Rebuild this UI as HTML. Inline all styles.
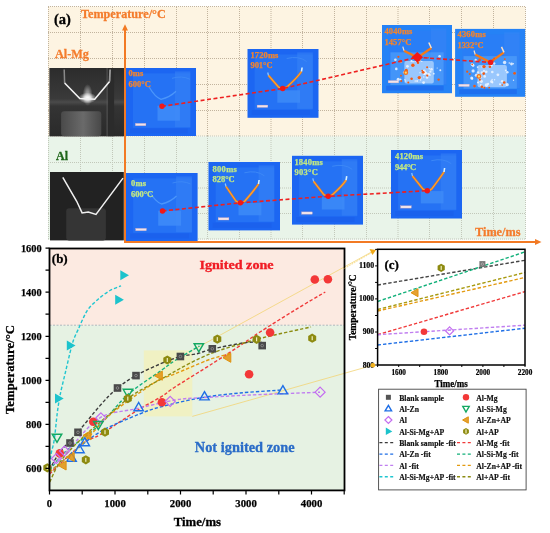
<!DOCTYPE html>
<html><head><meta charset="utf-8"><style>
html,body{margin:0;padding:0;background:#fff;}
svg{display:block;filter:blur(0.3px);font-family:"Liberation Serif",serif;}
</style></head><body>
<svg width="550" height="533" viewBox="0 0 550 533">
<rect width="550" height="533" fill="#fff"/>
<rect x="48" y="6.5" width="477.5" height="130" fill="#fdf4e2"/>
<rect x="48" y="136.5" width="477.5" height="103" fill="#e9f4e9"/>
<path d="M48.5 7V136 M80.5 7V136 M112.5 7V136 M144.5 7V136 M176.5 7V136 M207.5 7V136 M239.5 7V136 M271.0 7V136 M302.5 7V136 M334.5 7V136 M366.5 7V136 M398.0 7V136 M429.5 7V136 M461.5 7V136 M493.5 7V136 M525.5 7V136 M48 6.5H525.5 M48 32.5H525.5 M48 58.5H525.5 M48 84.5H525.5 M48 110.5H525.5" stroke="#c2b49e" stroke-width="1" stroke-dasharray="1,1" fill="none"/>
<path d="M48.5 136V239 M80.5 136V239 M112.5 136V239 M144.5 136V239 M176.5 136V239 M207.5 136V239 M239.5 136V239 M271.0 136V239 M302.5 136V239 M334.5 136V239 M366.5 136V239 M398.0 136V239 M429.5 136V239 M461.5 136V239 M493.5 136V239 M525.5 136V239 M48 136.0H525.5 M48 162.5H525.5 M48 188.0H525.5 M48 213.5H525.5 M48 239.0H525.5" stroke="#c2c8ba" stroke-width="1" stroke-dasharray="1,1" fill="none"/>
<g><rect x="49.6" y="68" width="74.3" height="68.2" fill="#303030"/><linearGradient id="pt1" x1="0" y1="0" x2="0" y2="1"><stop offset="0" stop-color="#2c2c2c"/><stop offset="0.45" stop-color="#3a3a3a"/><stop offset="0.5" stop-color="#4a4a4a"/><stop offset="0.56" stop-color="#343434"/><stop offset="1" stop-color="#2a2a2a"/></linearGradient><rect x="49.6" y="68" width="74.3" height="68.2" fill="url(#pt1)"/><rect x="106.6" y="68" width="1" height="68.2" fill="#555"/><rect x="108.1" y="68" width="6" height="68.2" fill="#2b2b2b"/><linearGradient id="pt2" x1="0" y1="0" x2="1" y2="0"><stop offset="0" stop-color="#4a4a4a"/><stop offset="0.55" stop-color="#6a6a6a"/><stop offset="1" stop-color="#484848"/></linearGradient><rect x="61.1" y="111.3" width="40.2" height="24.900000000000006" rx="3" fill="url(#pt2)"/><radialGradient id="glow1"><stop offset="0" stop-color="#fff" stop-opacity="1"/><stop offset="0.35" stop-color="#fff" stop-opacity="0.8"/><stop offset="1" stop-color="#fff" stop-opacity="0"/></radialGradient><ellipse cx="87.6" cy="95" rx="5" ry="11" fill="url(#glow1)" opacity="0.55"/><ellipse cx="87.6" cy="98" rx="9" ry="5.5" fill="url(#glow1)" opacity="1"/><path d="M64.2 69.5 L64.6 83" stroke="#8a8a8a" stroke-width="1.5"/><path d="M110.1 69.5 L109.6 81.5" stroke="#9a9a9a" stroke-width="1.8"/><polyline points="64.6,83 79.8,98.5 94.7,99.2 109.6,81.5" fill="none" stroke="#f2f2f2" stroke-width="1.6"/></g>
<g><rect x="50" y="172" width="73.8" height="68.4" fill="#222"/><rect x="66.2" y="208.3" width="39.7" height="32.10000000000001" rx="3" fill="#353535"/><polyline points="62.8,177.4 76.7,201.3 82.1,212.9 88.3,212.1 96,214.5 123,178.1" fill="none" stroke="#f0f0f0" stroke-width="1.5"/></g>
<g><rect x="126" y="68" width="70.0" height="68.0" fill="#1c66f2"/><rect x="133.0" y="73.4" width="57.4" height="54.4" fill="#2e7cf6" opacity="0.55"/><rect x="175.0" y="71.4" width="15.4" height="55.8" fill="#3b88f7" opacity="0.45"/><rect x="130.2" y="128.5" width="57.4" height="4.8" fill="#1a5ce8" opacity="0.5"/><rect x="157.5" y="105.7" width="22.4" height="15.0" fill="#3f8cf8" opacity="0.85"/><path d="M149 86.8 Q155 97.3 161 99.3 Q170 97.3 176 91.3" fill="none" stroke="#4b96fa" stroke-width="1.3"/><path d="M172 78.3 Q182 75.3 190 79.3" fill="none" stroke="#3c88f7" stroke-width="1"/><rect x="135.4" y="123.4" width="10.5" height="2.3" fill="#f0e4ea" stroke="#e8a8b0" stroke-width="0.3"/><text x="128.4" y="76.2" font-size="8.5" fill="#f5842c" stroke="#f5842c" stroke-width="0.25" font-weight="bold" textLength="14.8" lengthAdjust="spacing">0ms</text><text x="128.4" y="86.8" font-size="8.5" fill="#f5842c" stroke="#f5842c" stroke-width="0.25" font-weight="bold" textLength="22.5" lengthAdjust="spacing">600°C</text></g>
<g><rect x="247.5" y="49" width="71.0" height="68.8" fill="#1c66f2"/><rect x="254.6" y="54.5" width="58.2" height="55.0" fill="#2e7cf6" opacity="0.55"/><rect x="297.2" y="52.4" width="15.6" height="56.4" fill="#3b88f7" opacity="0.45"/><rect x="251.8" y="110.2" width="58.2" height="4.8" fill="#1a5ce8" opacity="0.5"/><rect x="277.3" y="90.3" width="22.7" height="12.4" fill="#3f8cf8" opacity="0.8"/><path d="M286.7 58.5 Q298.7 55.5 306.7 61.5" fill="none" stroke="#3c88f7" stroke-width="1"/><path d="M268.5 75.5 L278.2 86.7 Q282.7 90.7 287.2 86.7 Q297.5 77.5 301.5 71.5" fill="none" stroke="#e8761c" stroke-width="2.2" stroke-linejoin="round"/><path d="M268.5 75.5 L278.2 86.7 Q282.7 90.7 287.2 86.7 Q297.5 77.5 301.5 71.5" fill="none" stroke="#f6a234" stroke-width="1.2" stroke-linejoin="round"/><path d="M301.5 71.5 L302.1 67.5" stroke="#d8f2ff" stroke-width="1.6"/><path d="M268.5 75.5 L267.7 72.5" stroke="#8fc8ff" stroke-width="1.2"/><rect x="257.1" y="105.1" width="10.7" height="2.3" fill="#f0e4ea" stroke="#e8a8b0" stroke-width="0.3"/><text x="250.4" y="57.5" font-size="8.5" fill="#f5842c" stroke="#f5842c" stroke-width="0.25" font-weight="bold" textLength="28" lengthAdjust="spacing">1720ms</text><text x="250.4" y="67.6" font-size="8.5" fill="#f5842c" stroke="#f5842c" stroke-width="0.25" font-weight="bold" textLength="22.2" lengthAdjust="spacing">901°C</text></g>
<g><rect x="382" y="25" width="70.0" height="68.2" fill="#2582f6"/><rect x="389.0" y="30.5" width="57.4" height="54.6" fill="#2e7cf6" opacity="0.55"/><rect x="431.0" y="28.4" width="15.4" height="55.9" fill="#3b88f7" opacity="0.45"/><rect x="386.2" y="85.7" width="57.4" height="4.8" fill="#1a5ce8" opacity="0.5"/><rect x="390.4" y="52.3" width="53.2" height="32.7" fill="#5aa8fb" opacity="0.55"/><rect x="404.4" y="61.1" width="29.4" height="22.5" rx="2" fill="#d4e9ff" opacity="0.6"/><circle cx="411.9" cy="60.5" r="0.6" fill="#eef6ff" opacity="0.85"/><circle cx="429.3" cy="68.8" r="0.8" fill="#eef6ff" opacity="0.85"/><circle cx="404.9" cy="79.7" r="0.7" fill="#eef6ff" opacity="0.85"/><circle cx="396.3" cy="68.9" r="1.3" fill="#eef6ff" opacity="0.85"/><circle cx="403.9" cy="72.5" r="1.1" fill="#eef6ff" opacity="0.85"/><circle cx="395.4" cy="59.7" r="1.3" fill="#eef6ff" opacity="0.85"/><circle cx="428.5" cy="74.3" r="1.6" fill="#eef6ff" opacity="0.85"/><circle cx="420.2" cy="78.3" r="1.2" fill="#eef6ff" opacity="0.85"/><circle cx="426.1" cy="73.0" r="1.1" fill="#eef6ff" opacity="0.85"/><circle cx="419.3" cy="77.3" r="0.9" fill="#eef6ff" opacity="0.85"/><circle cx="431.5" cy="69.2" r="1.3" fill="#eef6ff" opacity="0.85"/><circle cx="400.5" cy="79.4" r="1.0" fill="#eef6ff" opacity="0.85"/><circle cx="420.0" cy="72.7" r="0.7" fill="#eef6ff" opacity="0.85"/><circle cx="423.8" cy="77.0" r="0.7" fill="#eef6ff" opacity="0.85"/><circle cx="419.2" cy="60.0" r="1.8" fill="#eef6ff" opacity="0.85"/><circle cx="398.2" cy="79.4" r="1.6" fill="#eef6ff" opacity="0.85"/><circle cx="418.8" cy="78.2" r="0.6" fill="#eef6ff" opacity="0.85"/><circle cx="415.2" cy="61.5" r="0.6" fill="#eef6ff" opacity="0.85"/><circle cx="417.1" cy="81.0" r="1.0" fill="#eef6ff" opacity="0.85"/><circle cx="405.6" cy="81.0" r="0.7" fill="#eef6ff" opacity="0.85"/><circle cx="413.0" cy="61.6" r="0.8" fill="#eef6ff" opacity="0.85"/><circle cx="433.8" cy="73.7" r="0.9" fill="#eef6ff" opacity="0.85"/><circle cx="415.2" cy="81.0" r="0.8" fill="#eef6ff" opacity="0.85"/><circle cx="411.3" cy="61.0" r="0.9" fill="#eef6ff" opacity="0.85"/><circle cx="424.1" cy="71.2" r="1.6" fill="#eef6ff" opacity="0.85"/><circle cx="439.6" cy="56.3" r="1.3" fill="#eef6ff" opacity="0.85"/><circle cx="424.3" cy="74.0" r="1.1" fill="#eef6ff" opacity="0.85"/><circle cx="421.8" cy="61.4" r="0.7" fill="#eef6ff" opacity="0.85"/><circle cx="423.6" cy="82.6" r="1.4" fill="#eef6ff" opacity="0.85"/><circle cx="418.0" cy="60.3" r="1.0" fill="#eef6ff" opacity="0.85"/><circle cx="424.8" cy="73.1" r="1.8" fill="#eef6ff" opacity="0.85"/><circle cx="427.1" cy="77.5" r="1.3" fill="#eef6ff" opacity="0.85"/><circle cx="430.4" cy="71.7" r="1.1" fill="#eef6ff" opacity="0.85"/><circle cx="440.3" cy="70.3" r="1.0" fill="#eef6ff" opacity="0.85"/><circle cx="430.1" cy="75.1" r="0.8" fill="#eef6ff" opacity="0.85"/><circle cx="407.4" cy="66.3" r="1.4" fill="#eef6ff" opacity="0.85"/><circle cx="420.6" cy="80.0" r="0.7" fill="#eef6ff" opacity="0.85"/><circle cx="400.9" cy="62.0" r="1.0" fill="#eef6ff" opacity="0.85"/><circle cx="407.0" cy="72.9" r="1.0" fill="#eef6ff" opacity="0.85"/><circle cx="437.2" cy="68.0" r="0.6" fill="#eef6ff" opacity="0.85"/><path d="M404 50.7 L417.6 57.6 L431.3 48" fill="none" stroke="#f47a18" stroke-width="2.3" stroke-linejoin="round"/><path d="M431.3 48 L428.8 42.5" stroke="#f8e0c8" stroke-width="1.5"/><path d="M404 50.7 L402.8 46.7" stroke="#f8e0c8" stroke-width="1.2"/><circle cx="438.6" cy="79.6" r="1.2" fill="#f25a12"/><circle cx="408.3" cy="82.6" r="1.0" fill="#f25a12"/><circle cx="411.6" cy="78.7" r="1.3" fill="#f25a12"/><circle cx="400.6" cy="61.2" r="1.5" fill="#f25a12"/><circle cx="413.2" cy="56.3" r="0.8" fill="#f25a12"/><circle cx="427.1" cy="67.2" r="1.0" fill="#f25a12"/><circle cx="401.0" cy="75.7" r="0.9" fill="#f25a12"/><circle cx="428.2" cy="57.8" r="0.8" fill="#f25a12"/><circle cx="398.4" cy="56.8" r="1.1" fill="#f25a12"/><circle cx="401.2" cy="81.0" r="1.0" fill="#f25a12"/><circle cx="419.0" cy="59.8" r="1.7" fill="#f25a12"/><circle cx="406.3" cy="70.4" r="1.6" fill="#f25a12"/><circle cx="422.2" cy="70.6" r="0.9" fill="#f25a12"/><circle cx="418.0" cy="62.8" r="1.2" fill="#f25a12"/><circle cx="423.2" cy="72.3" r="1.4" fill="#f25a12"/><circle cx="412.9" cy="65.3" r="1.7" fill="#f25a12"/><circle cx="427.3" cy="75.6" r="1.1" fill="#f25a12"/><circle cx="419.3" cy="77.6" r="1.7" fill="#f25a12"/><circle cx="405.8" cy="72.7" r="2.4" fill="#f47020"/><circle cx="405.8" cy="72.7" r="1.1" fill="#f8e070"/><rect x="388.2" y="80.6" width="10.5" height="2.3" fill="#f0e4ea" stroke="#e8a8b0" stroke-width="0.3"/><text x="384.4" y="33.6" font-size="8.5" fill="#f5842c" stroke="#f5842c" stroke-width="0.25" font-weight="bold" textLength="28" lengthAdjust="spacing">4040ms</text><text x="384.4" y="44.6" font-size="8.5" fill="#f5842c" stroke="#f5842c" stroke-width="0.25" font-weight="bold" textLength="27" lengthAdjust="spacing">1457°C</text></g>
<g><rect x="455.1" y="28.9" width="70.1" height="67.9" fill="#2582f6"/><rect x="462.1" y="34.3" width="57.5" height="54.3" fill="#2e7cf6" opacity="0.55"/><rect x="504.2" y="32.3" width="15.4" height="55.7" fill="#3b88f7" opacity="0.45"/><rect x="459.3" y="89.3" width="57.5" height="4.8" fill="#1a5ce8" opacity="0.5"/><rect x="463.5" y="56.1" width="53.3" height="32.6" fill="#5aa8fb" opacity="0.55"/><rect x="477.5" y="64.9" width="29.4" height="22.4" rx="2" fill="#d4e9ff" opacity="0.6"/><circle cx="509.3" cy="63.0" r="0.8" fill="#eef6ff" opacity="0.85"/><circle cx="513.3" cy="63.7" r="0.8" fill="#eef6ff" opacity="0.85"/><circle cx="491.6" cy="81.6" r="1.5" fill="#eef6ff" opacity="0.85"/><circle cx="484.0" cy="70.9" r="1.1" fill="#eef6ff" opacity="0.85"/><circle cx="473.1" cy="70.9" r="1.6" fill="#eef6ff" opacity="0.85"/><circle cx="480.8" cy="85.0" r="0.9" fill="#eef6ff" opacity="0.85"/><circle cx="494.2" cy="63.5" r="1.2" fill="#eef6ff" opacity="0.85"/><circle cx="478.0" cy="72.4" r="1.2" fill="#eef6ff" opacity="0.85"/><circle cx="492.1" cy="79.4" r="0.7" fill="#eef6ff" opacity="0.85"/><circle cx="476.5" cy="75.2" r="1.7" fill="#eef6ff" opacity="0.85"/><circle cx="511.5" cy="64.0" r="1.4" fill="#eef6ff" opacity="0.85"/><circle cx="477.6" cy="67.1" r="0.9" fill="#eef6ff" opacity="0.85"/><circle cx="504.6" cy="62.5" r="1.7" fill="#eef6ff" opacity="0.85"/><circle cx="492.4" cy="82.4" r="1.0" fill="#eef6ff" opacity="0.85"/><circle cx="478.0" cy="82.5" r="1.1" fill="#eef6ff" opacity="0.85"/><circle cx="492.3" cy="72.0" r="1.3" fill="#eef6ff" opacity="0.85"/><circle cx="500.0" cy="84.2" r="1.0" fill="#eef6ff" opacity="0.85"/><circle cx="497.9" cy="74.8" r="1.4" fill="#eef6ff" opacity="0.85"/><circle cx="505.8" cy="70.4" r="0.9" fill="#eef6ff" opacity="0.85"/><circle cx="507.2" cy="84.7" r="1.6" fill="#eef6ff" opacity="0.85"/><circle cx="491.1" cy="64.9" r="1.8" fill="#eef6ff" opacity="0.85"/><circle cx="513.5" cy="80.2" r="0.7" fill="#eef6ff" opacity="0.85"/><circle cx="494.6" cy="79.7" r="0.7" fill="#eef6ff" opacity="0.85"/><circle cx="486.2" cy="71.8" r="1.4" fill="#eef6ff" opacity="0.85"/><circle cx="472.2" cy="64.4" r="1.5" fill="#eef6ff" opacity="0.85"/><circle cx="473.1" cy="65.5" r="1.4" fill="#eef6ff" opacity="0.85"/><circle cx="507.4" cy="72.2" r="1.2" fill="#eef6ff" opacity="0.85"/><circle cx="481.4" cy="81.3" r="1.6" fill="#eef6ff" opacity="0.85"/><circle cx="488.1" cy="83.9" r="1.1" fill="#eef6ff" opacity="0.85"/><circle cx="483.0" cy="87.5" r="0.7" fill="#eef6ff" opacity="0.85"/><circle cx="484.7" cy="76.4" r="1.3" fill="#eef6ff" opacity="0.85"/><circle cx="502.2" cy="81.3" r="1.3" fill="#eef6ff" opacity="0.85"/><circle cx="480.1" cy="76.9" r="1.7" fill="#eef6ff" opacity="0.85"/><circle cx="472.2" cy="78.7" r="1.1" fill="#eef6ff" opacity="0.85"/><circle cx="481.9" cy="66.9" r="0.7" fill="#eef6ff" opacity="0.85"/><circle cx="471.7" cy="78.0" r="1.5" fill="#eef6ff" opacity="0.85"/><circle cx="486.5" cy="85.1" r="1.8" fill="#eef6ff" opacity="0.85"/><circle cx="476.7" cy="60.8" r="0.7" fill="#eef6ff" opacity="0.85"/><circle cx="482.1" cy="72.5" r="1.3" fill="#eef6ff" opacity="0.85"/><circle cx="475.7" cy="60.0" r="1.2" fill="#eef6ff" opacity="0.85"/><path d="M475.2 54.5 L490 62.3 L504 52.4" fill="none" stroke="#f47a18" stroke-width="2.3" stroke-linejoin="round"/><path d="M504 52.4 L501.5 46.9" stroke="#f8e0c8" stroke-width="1.5"/><path d="M475.2 54.5 L474.0 50.5" stroke="#f8e0c8" stroke-width="1.2"/><circle cx="469.8" cy="74.0" r="0.9" fill="#f25a12"/><circle cx="514.6" cy="73.3" r="1.4" fill="#f25a12"/><circle cx="483.7" cy="73.6" r="1.3" fill="#f25a12"/><circle cx="467.2" cy="71.7" r="1.1" fill="#f25a12"/><circle cx="502.2" cy="85.1" r="0.8" fill="#f25a12"/><circle cx="484.0" cy="66.6" r="1.7" fill="#f25a12"/><circle cx="492.6" cy="60.6" r="1.4" fill="#f25a12"/><circle cx="504.8" cy="59.1" r="0.9" fill="#f25a12"/><circle cx="504.2" cy="82.5" r="1.3" fill="#f25a12"/><circle cx="489.9" cy="66.7" r="1.3" fill="#f25a12"/><circle cx="484.3" cy="87.8" r="1.0" fill="#f25a12"/><circle cx="494.1" cy="58.5" r="0.9" fill="#f25a12"/><circle cx="481.9" cy="86.8" r="1.3" fill="#f25a12"/><circle cx="472.2" cy="64.4" r="0.8" fill="#f25a12"/><circle cx="479.6" cy="59.9" r="1.4" fill="#f25a12"/><circle cx="479.9" cy="79.7" r="1.0" fill="#f25a12"/><circle cx="489.2" cy="87.6" r="0.9" fill="#f25a12"/><circle cx="474.5" cy="86.1" r="1.3" fill="#f25a12"/><circle cx="478.9" cy="76.4" r="2.4" fill="#f47020"/><circle cx="478.9" cy="76.4" r="1.1" fill="#f8e070"/><rect x="458.8" y="84.2" width="10.5" height="2.3" fill="#f0e4ea" stroke="#e8a8b0" stroke-width="0.3"/><text x="457.5" y="37.4" font-size="8.5" fill="#f5842c" stroke="#f5842c" stroke-width="0.25" font-weight="bold" textLength="28.2" lengthAdjust="spacing">4360ms</text><text x="457.5" y="47.8" font-size="8.5" fill="#f5842c" stroke="#f5842c" stroke-width="0.25" font-weight="bold" textLength="26.2" lengthAdjust="spacing">1332°C</text></g>
<g><rect x="126" y="173" width="71.6" height="68.0" fill="#1c66f2"/><rect x="133.2" y="178.4" width="58.7" height="54.4" fill="#2e7cf6" opacity="0.55"/><rect x="176.1" y="176.4" width="15.8" height="55.8" fill="#3b88f7" opacity="0.45"/><rect x="130.3" y="233.5" width="58.7" height="4.8" fill="#1a5ce8" opacity="0.5"/><rect x="158.2" y="210.7" width="22.9" height="15.0" fill="#3f8cf8" opacity="0.85"/><path d="M149.5 191.5 Q155.5 202 161.5 204 Q170.5 202 176.5 196" fill="none" stroke="#4b96fa" stroke-width="1.3"/><path d="M172.5 183 Q182.5 180 190.5 184" fill="none" stroke="#3c88f7" stroke-width="1"/><rect x="135.7" y="228.4" width="10.7" height="2.3" fill="#f0e4ea" stroke="#e8a8b0" stroke-width="0.3"/><text x="131" y="186.2" font-size="8.5" fill="#c2e884" stroke="#c2e884" stroke-width="0.25" font-weight="bold" textLength="15" lengthAdjust="spacing">0ms</text><text x="131" y="196.6" font-size="8.5" fill="#c2e884" stroke="#c2e884" stroke-width="0.25" font-weight="bold" textLength="22.2" lengthAdjust="spacing">600°C</text></g>
<g><rect x="208.5" y="162" width="71.5" height="68.4" fill="#1c66f2"/><rect x="215.7" y="167.5" width="58.6" height="54.7" fill="#2e7cf6" opacity="0.55"/><rect x="258.6" y="165.4" width="15.7" height="56.1" fill="#3b88f7" opacity="0.45"/><rect x="212.8" y="222.9" width="58.6" height="4.8" fill="#1a5ce8" opacity="0.5"/><rect x="238.5" y="203.0" width="22.9" height="12.3" fill="#3f8cf8" opacity="0.8"/><path d="M244.4 172.8 Q256.4 169.8 264.4 175.8" fill="none" stroke="#3c88f7" stroke-width="1"/><path d="M226 186.5 L235.9 201.0 Q240.4 205.0 244.9 201.0 Q254.5 190.0 258.5 184" fill="none" stroke="#e8761c" stroke-width="2.2" stroke-linejoin="round"/><path d="M226 186.5 L235.9 201.0 Q240.4 205.0 244.9 201.0 Q254.5 190.0 258.5 184" fill="none" stroke="#f6a234" stroke-width="1.2" stroke-linejoin="round"/><path d="M258.5 184 L259.1 180" stroke="#d8f2ff" stroke-width="1.6"/><path d="M226 186.5 L225.2 183.5" stroke="#8fc8ff" stroke-width="1.2"/><rect x="218.2" y="217.7" width="10.7" height="2.3" fill="#f0e4ea" stroke="#e8a8b0" stroke-width="0.3"/><text x="212.6" y="171.5" font-size="8.5" fill="#c2e884" stroke="#c2e884" stroke-width="0.25" font-weight="bold" textLength="24.2" lengthAdjust="spacing">800ms</text><text x="212.6" y="182" font-size="8.5" fill="#c2e884" stroke="#c2e884" stroke-width="0.25" font-weight="bold" textLength="22" lengthAdjust="spacing">828°C</text></g>
<g><rect x="292" y="155.8" width="71.0" height="68.8" fill="#1c66f2"/><rect x="299.1" y="161.3" width="58.2" height="55.0" fill="#2e7cf6" opacity="0.55"/><rect x="341.7" y="159.2" width="15.6" height="56.4" fill="#3b88f7" opacity="0.45"/><rect x="296.3" y="217.0" width="58.2" height="4.8" fill="#1a5ce8" opacity="0.5"/><rect x="321.8" y="197.1" width="22.7" height="12.4" fill="#3f8cf8" opacity="0.8"/><path d="M332.2 166.3 Q344.2 163.3 352.2 169.3" fill="none" stroke="#3c88f7" stroke-width="1"/><path d="M313.6 181.4 L323.7 194.5 Q328.2 198.5 332.7 194.5 Q342.1 186.2 346.1 180.2" fill="none" stroke="#e8761c" stroke-width="2.2" stroke-linejoin="round"/><path d="M313.6 181.4 L323.7 194.5 Q328.2 198.5 332.7 194.5 Q342.1 186.2 346.1 180.2" fill="none" stroke="#f6a234" stroke-width="1.2" stroke-linejoin="round"/><path d="M346.1 180.2 L346.70000000000005 176.2" stroke="#d8f2ff" stroke-width="1.6"/><path d="M313.6 181.4 L312.8 178.4" stroke="#8fc8ff" stroke-width="1.2"/><rect x="301.6" y="211.9" width="10.7" height="2.3" fill="#f0e4ea" stroke="#e8a8b0" stroke-width="0.3"/><text x="294.4" y="165.10000000000002" font-size="8.5" fill="#c2e884" stroke="#c2e884" stroke-width="0.25" font-weight="bold" textLength="28.5" lengthAdjust="spacing">1840ms</text><text x="294.4" y="175.3" font-size="8.5" fill="#c2e884" stroke="#c2e884" stroke-width="0.25" font-weight="bold" textLength="23.5" lengthAdjust="spacing">903°C</text></g>
<g><rect x="391" y="150" width="71.0" height="68.5" fill="#1c66f2"/><rect x="398.1" y="155.5" width="58.2" height="54.8" fill="#2e7cf6" opacity="0.55"/><rect x="440.7" y="153.4" width="15.6" height="56.2" fill="#3b88f7" opacity="0.45"/><rect x="395.3" y="211.0" width="58.2" height="4.8" fill="#1a5ce8" opacity="0.5"/><rect x="420.8" y="191.1" width="22.7" height="12.3" fill="#3f8cf8" opacity="0.8"/><path d="M431.3 160.7 Q443.3 157.7 451.3 163.7" fill="none" stroke="#3c88f7" stroke-width="1"/><path d="M412.5 176 L422.8 188.9 Q427.3 192.9 431.8 188.9 Q440.0 178.0 444 172" fill="none" stroke="#e8761c" stroke-width="2.2" stroke-linejoin="round"/><path d="M412.5 176 L422.8 188.9 Q427.3 192.9 431.8 188.9 Q440.0 178.0 444 172" fill="none" stroke="#f6a234" stroke-width="1.2" stroke-linejoin="round"/><path d="M444 172 L444.6 168" stroke="#d8f2ff" stroke-width="1.6"/><path d="M412.5 176 L411.7 173" stroke="#8fc8ff" stroke-width="1.2"/><rect x="400.6" y="205.8" width="10.7" height="2.3" fill="#f0e4ea" stroke="#e8a8b0" stroke-width="0.3"/><text x="395" y="159.3" font-size="8.5" fill="#c2e884" stroke="#c2e884" stroke-width="0.25" font-weight="bold" textLength="28.1" lengthAdjust="spacing">4120ms</text><text x="395" y="169.5" font-size="8.5" fill="#c2e884" stroke="#c2e884" stroke-width="0.25" font-weight="bold" textLength="21.2" lengthAdjust="spacing">944°C</text></g>
<polyline points="162,106.3 282.7,88.5 417.3,57.3 490.6,62.4" fill="none" stroke="#ee2020" stroke-width="1.6" stroke-dasharray="4,2.5"/>
<polyline points="162.5,211 240.4,202.8 328.2,196.3 427.3,190.7" fill="none" stroke="#ee2020" stroke-width="1.6" stroke-dasharray="4,2.5"/>
<circle cx="162" cy="106.3" r="2.7" fill="#f01818"/>
<circle cx="282.7" cy="88.5" r="2.7" fill="#f01818"/>
<circle cx="490.6" cy="62.4" r="2.7" fill="#f01818"/>
<circle cx="162.5" cy="211" r="2.7" fill="#f01818"/>
<circle cx="240.4" cy="202.8" r="2.7" fill="#f01818"/>
<circle cx="328.2" cy="196.3" r="2.7" fill="#f01818"/>
<circle cx="427.3" cy="190.7" r="2.7" fill="#f01818"/>
<path d="M417.3 52 L423 57.3 L417.3 62.5 L411.6 57.3Z" fill="#f01818"/>
<path d="M125 242V29" stroke="#f27a24" stroke-width="2"/>
<path d="M125 24.3 L128 30.5 L122 30.5Z" fill="#f27a24"/>
<path d="M124 242H536" stroke="#f27a24" stroke-width="2"/>
<path d="M541.5 242 L535 239 L535 245Z" fill="#f27a24"/>
<text x="54" y="24" font-size="14.5" fill="#000" text-anchor="start" stroke="#000" stroke-width="0.3" font-weight="bold">(a)</text>
<text x="81" y="18" font-size="13.2" fill="#f47c2c" text-anchor="start" textLength="84.7" lengthAdjust="spacingAndGlyphs" stroke="#f47c2c" stroke-width="0.3" font-weight="bold">Temperature/°C</text>
<text x="55" y="57.8" font-size="13.2" fill="#f47c2c" text-anchor="start" textLength="34" lengthAdjust="spacingAndGlyphs" stroke="#f47c2c" stroke-width="0.3" font-weight="bold">Al-Mg</text>
<text x="56" y="160.4" font-size="13.2" fill="#1d6418" text-anchor="start" textLength="12" lengthAdjust="spacingAndGlyphs" stroke="#1d6418" stroke-width="0.3" font-weight="bold">Al</text>
<text x="475" y="235.5" font-size="13.5" fill="#f47c2c" text-anchor="start" textLength="45.5" lengthAdjust="spacingAndGlyphs" stroke="#f47c2c" stroke-width="0.3" font-weight="bold">Time/ms</text>
<rect x="49.5" y="248.5" width="295.0" height="76.8" fill="#fceae1"/>
<rect x="49.5" y="325.2" width="295.0" height="165.1" fill="#e6f2e3"/>
<path d="M49.5 325.2H344.5" stroke="#a8b0b8" stroke-width="0.9" stroke-dasharray="2,1.5"/>
<rect x="143.8" y="350.4" width="48.5" height="66" fill="#f3f0b8" opacity="0.75"/>
<path d="M192.3 350.4 L373 251.2 M192.3 416.4 L373 365.2" stroke="#f3d475" stroke-width="0.8" fill="none"/>
<path d="M49.5 470.0 C51.2 467.0 55.2 458.3 60.0 452.0 C64.8 445.7 71.3 439.7 78.0 432.0 C84.7 424.3 93.5 412.9 100.0 405.6 C106.5 398.3 111.0 393.4 117.0 388.4 C123.0 383.4 128.8 379.6 136.0 375.5 C143.2 371.4 152.7 367.1 160.0 364.0 C167.3 360.9 173.7 358.4 180.0 356.7 C186.3 354.9 192.6 354.8 197.9 353.5 C203.2 352.2 204.1 350.9 211.9 349.1 C219.8 347.3 236.7 343.8 245.0 342.7 C253.3 341.6 259.2 342.5 262.0 342.5" fill="none" stroke="#3a3a3a" stroke-width="1.4" stroke-dasharray="3.4,2"/>
<path d="M49.5 474.0 C55.0 468.9 74.1 450.1 82.5 443.5 C90.9 436.9 90.8 440.2 100.0 434.7 C109.2 429.2 127.2 416.7 137.5 410.3 C147.8 403.9 155.7 400.2 161.9 396.3 C168.2 392.4 166.4 392.5 175.0 387.0 C183.6 381.5 201.9 370.3 213.2 363.1 C224.4 355.9 234.7 349.2 242.5 344.0 C250.3 338.8 251.2 337.7 260.0 332.0 C268.8 326.3 284.1 316.7 295.0 310.0 C305.9 303.3 320.2 295.0 325.3 292.0" fill="none" stroke="#f03a3a" stroke-width="1.4" stroke-dasharray="3.4,2"/>
<path d="M49.5 472.0 C52.9 469.2 61.6 461.7 70.0 455.0 C78.4 448.3 88.4 438.7 100.0 431.9 C111.6 425.1 129.1 418.3 139.4 414.1 C149.7 409.9 151.8 409.3 161.9 406.6 C172.0 403.9 187.0 400.3 200.0 398.0 C213.0 395.7 226.3 394.3 240.0 393.0 C253.7 391.7 275.0 390.5 282.0 390.0" fill="none" stroke="#1f6fe6" stroke-width="1.4" stroke-dasharray="3.4,2"/>
<path d="M49.5 470.0 C52.1 467.0 59.1 457.5 65.0 452.0 C70.9 446.5 78.5 442.2 85.0 437.0 C91.5 431.8 96.6 427.8 103.8 420.7 C111.0 413.6 118.4 402.8 128.1 394.4 C137.8 385.9 154.1 375.6 161.9 370.0 C169.7 364.4 168.7 364.5 175.0 360.5 C181.3 356.5 195.4 348.4 199.5 346.0" fill="none" stroke="#12b07a" stroke-width="1.4" stroke-dasharray="3.4,2"/>
<path d="M49.5 468.0 C52.9 464.7 61.6 456.4 70.0 448.0 C78.4 439.6 88.8 424.4 100.0 417.8 C111.2 411.2 125.0 411.5 137.5 408.5 C150.0 405.5 164.6 401.8 175.0 400.0 C185.4 398.2 187.5 398.6 200.0 397.8 C212.5 397.0 230.0 395.9 250.0 395.0 C270.0 394.1 308.3 392.7 320.0 392.2" fill="none" stroke="#c07ff0" stroke-width="1.4" stroke-dasharray="3.4,2"/>
<path d="M49.5 472.0 C54.6 467.7 70.3 455.2 80.0 446.0 C89.7 436.8 99.5 424.5 107.5 417.0 C115.5 409.5 121.8 405.7 128.0 401.0 C134.2 396.3 139.7 392.6 145.0 389.0 C150.3 385.4 154.7 382.0 159.7 379.5 C164.7 377.0 167.2 377.1 175.0 373.9 C182.8 370.7 199.2 363.5 206.8 360.5 C214.4 357.5 216.6 357.4 220.8 356.1 C225.0 354.9 230.1 353.5 232.0 353.0" fill="none" stroke="#e39a10" stroke-width="1.4" stroke-dasharray="3.4,2"/>
<path d="M49.8 482.0 C51.5 478.7 55.0 469.0 60.0 462.0 C65.0 455.0 72.1 447.7 80.0 440.0 C87.9 432.3 99.0 423.3 107.5 416.0 C116.0 408.7 123.9 401.5 131.0 396.3 C138.1 391.1 144.3 388.2 150.0 385.0 C155.7 381.8 160.0 379.8 165.0 377.0 C170.0 374.2 174.1 371.7 180.0 368.5 C185.9 365.3 193.9 361.0 200.5 358.0 C207.1 355.0 212.1 352.9 219.5 350.4 C226.9 347.8 236.6 345.1 245.0 342.7 C253.4 340.3 259.0 338.6 270.0 336.0 C281.0 333.4 304.2 328.5 311.0 327.0" fill="none" stroke="#8c8c12" stroke-width="1.4" stroke-dasharray="3.4,2"/>
<path d="M49.7 470.0 C49.9 467.5 50.1 460.0 50.9 455.0 C51.6 450.0 53.1 447.2 54.2 440.0 C55.3 432.8 56.4 419.5 57.4 412.0 C58.4 404.5 58.8 401.7 60.1 395.0 C61.5 388.3 63.6 379.8 65.5 372.0 C67.3 364.2 69.7 353.8 71.2 348.0 C72.7 342.2 73.3 340.6 74.5 337.5 C75.7 334.4 76.8 332.4 78.2 329.4 C79.6 326.4 81.0 322.7 82.7 319.3 C84.4 315.9 85.7 312.5 88.3 309.1 C90.9 305.7 94.8 302.1 98.4 299.0 C102.0 295.9 106.2 292.7 110.0 290.5 C113.8 288.3 119.2 286.6 121.0 285.8" fill="none" stroke="#1fc6d0" stroke-width="1.4" stroke-dasharray="3.4,2"/>
<circle cx="59.8" cy="453.4" r="4.3" fill="#f33838"/>
<circle cx="93.3" cy="421.8" r="4.3" fill="#f33838"/>
<circle cx="161.9" cy="402.3" r="4.3" fill="#f33838"/>
<circle cx="249.1" cy="374.2" r="4.3" fill="#f33838"/>
<circle cx="270.1" cy="332.5" r="4.3" fill="#f33838"/>
<circle cx="314.8" cy="279.5" r="4.3" fill="#f33838"/>
<circle cx="327.9" cy="279.3" r="4.3" fill="#f33838"/>
<rect x="66.2" y="439.2" width="7.6" height="7.6" fill="#4a4a4a"/><circle cx="70.0" cy="443.0" r="1.3" fill="none" stroke="#aaa" stroke-width="0.6"/>
<rect x="74.2" y="428.5" width="7.6" height="7.6" fill="#4a4a4a"/><circle cx="78.0" cy="432.3" r="1.3" fill="none" stroke="#aaa" stroke-width="0.6"/>
<rect x="113.7" y="384.2" width="7.6" height="7.6" fill="#4a4a4a"/><circle cx="117.5" cy="388.0" r="1.3" fill="none" stroke="#aaa" stroke-width="0.6"/>
<rect x="132.2" y="371.8" width="7.6" height="7.6" fill="#4a4a4a"/><circle cx="136.0" cy="375.6" r="1.3" fill="none" stroke="#aaa" stroke-width="0.6"/>
<rect x="176.6" y="352.7" width="7.6" height="7.6" fill="#4a4a4a"/><circle cx="180.4" cy="356.5" r="1.3" fill="none" stroke="#aaa" stroke-width="0.6"/>
<rect x="208.5" y="345.0" width="7.6" height="7.6" fill="#4a4a4a"/><circle cx="212.3" cy="348.8" r="1.3" fill="none" stroke="#aaa" stroke-width="0.6"/>
<rect x="258.4" y="341.8" width="7.6" height="7.6" fill="#4a4a4a"/><circle cx="262.2" cy="345.6" r="1.3" fill="none" stroke="#aaa" stroke-width="0.6"/>
<path d="M71.6 453.1 L76.3 461.3 L66.8 461.3Z" fill="none" stroke="#1f6fe6" stroke-width="1.4"/>
<path d="M79.4 444.5 L84.2 452.7 L74.7 452.7Z" fill="none" stroke="#1f6fe6" stroke-width="1.4"/>
<path d="M84.8 437.6 L89.5 445.8 L80.0 445.8Z" fill="none" stroke="#1f6fe6" stroke-width="1.4"/>
<path d="M138.7 402.5 L143.4 410.7 L133.9 410.7Z" fill="none" stroke="#1f6fe6" stroke-width="1.4"/>
<path d="M204.5 391.7 L209.2 399.9 L199.8 399.9Z" fill="none" stroke="#1f6fe6" stroke-width="1.4"/>
<path d="M282.9 385.7 L287.6 393.9 L278.1 393.9Z" fill="none" stroke="#1f6fe6" stroke-width="1.4"/>
<path d="M56.4 453.5 L61.4 458.5 L56.4 463.5 L51.4 458.5Z" fill="none" stroke="#c46cf0" stroke-width="1.2"/>
<path d="M64.5 446.0 L69.5 451.0 L64.5 456.0 L59.5 451.0Z" fill="none" stroke="#c46cf0" stroke-width="1.2"/>
<path d="M100.9 412.8 L105.9 417.8 L100.9 422.8 L95.9 417.8Z" fill="none" stroke="#c46cf0" stroke-width="1.2"/>
<path d="M170.2 396.3 L175.2 401.3 L170.2 406.3 L165.2 401.3Z" fill="none" stroke="#c46cf0" stroke-width="1.2"/>
<path d="M320.1 387.2 L325.1 392.2 L320.1 397.2 L315.1 392.2Z" fill="none" stroke="#c46cf0" stroke-width="1.2"/>
<path d="M57.0 442.4 L61.8 434.2 L52.2 434.2Z" fill="none" stroke="#13a862" stroke-width="1.4"/>
<path d="M98.3 429.7 L103.0 421.5 L93.5 421.5Z" fill="none" stroke="#13a862" stroke-width="1.4"/>
<path d="M127.9 397.5 L132.7 389.3 L123.2 389.3Z" fill="none" stroke="#13a862" stroke-width="1.4"/>
<path d="M198.8 351.9 L203.6 343.7 L194.1 343.7Z" fill="none" stroke="#13a862" stroke-width="1.4"/>
<path d="M58.3 465.5 L66.1 461.0 L66.1 470.0Z" fill="#e0920e" fill-opacity="0.85" stroke="#e0920e" stroke-width="1"/>
<path d="M66.4 457.0 L74.2 452.5 L74.2 461.5Z" fill="#e0920e" fill-opacity="0.85" stroke="#e0920e" stroke-width="1"/>
<path d="M83.1 435.3 L90.9 430.8 L90.9 439.8Z" fill="#e0920e" fill-opacity="0.85" stroke="#e0920e" stroke-width="1"/>
<path d="M154.5 375.7 L162.3 371.2 L162.3 380.2Z" fill="#e0920e" fill-opacity="0.85" stroke="#e0920e" stroke-width="1"/>
<path d="M223.0 357.8 L230.8 353.3 L230.8 362.3Z" fill="#e0920e" fill-opacity="0.85" stroke="#e0920e" stroke-width="1"/>
<polygon points="47.3,472.4 43.3,470.1 43.3,465.5 47.3,463.2 51.3,465.5 51.3,470.1" fill="#8d8a10"/><rect x="46.7" y="465.8" width="1.2" height="4" fill="#f0f0c0"/>
<polygon points="85.8,464.4 81.8,462.1 81.8,457.5 85.8,455.2 89.8,457.5 89.8,462.1" fill="#8d8a10"/><rect x="85.2" y="457.8" width="1.2" height="4" fill="#f0f0c0"/>
<polygon points="105.0,436.8 101.0,434.5 101.0,429.9 105.0,427.6 109.0,429.9 109.0,434.5" fill="#8d8a10"/><rect x="104.4" y="430.2" width="1.2" height="4" fill="#f0f0c0"/>
<polygon points="127.8,403.2 123.8,400.9 123.8,396.3 127.8,394.0 131.8,396.3 131.8,400.9" fill="#8d8a10"/><rect x="127.2" y="396.6" width="1.2" height="4" fill="#f0f0c0"/>
<polygon points="167.3,364.6 163.3,362.3 163.3,357.7 167.3,355.4 171.3,357.7 171.3,362.3" fill="#8d8a10"/><rect x="166.7" y="358.0" width="1.2" height="4" fill="#f0f0c0"/>
<polygon points="217.3,343.7 213.3,341.4 213.3,336.8 217.3,334.5 221.3,336.8 221.3,341.4" fill="#8d8a10"/><rect x="216.7" y="337.1" width="1.2" height="4" fill="#f0f0c0"/>
<polygon points="256.6,343.9 252.6,341.6 252.6,337.0 256.6,334.7 260.6,337.0 260.6,341.6" fill="#8d8a10"/><rect x="256.0" y="337.3" width="1.2" height="4" fill="#f0f0c0"/>
<polygon points="312.2,342.8 308.2,340.5 308.2,335.9 312.2,333.6 316.2,335.9 316.2,340.5" fill="#8d8a10"/><rect x="311.6" y="336.2" width="1.2" height="4" fill="#f0f0c0"/>
<path d="M63.7 398.5 L55.0 393.5 L55.0 403.5Z" fill="#1cc3cc"/>
<path d="M75.5 345.6 L66.8 340.6 L66.8 350.6Z" fill="#1cc3cc"/>
<path d="M123.9 299.7 L115.2 294.7 L115.2 304.7Z" fill="#1cc3cc"/>
<path d="M129.0 275.3 L120.3 270.3 L120.3 280.3Z" fill="#1cc3cc"/>
<rect x="49.5" y="248.5" width="295.0" height="241.9" fill="none" stroke="#000" stroke-width="1.8"/>
<path d="M45.5 468.4H49.5 M45.5 446.4H49.5 M45.5 424.3H49.5 M45.5 402.3H49.5 M45.5 380.3H49.5 M45.5 358.3H49.5 M45.5 336.3H49.5 M45.5 314.2H49.5 M45.5 292.2H49.5 M45.5 270.2H49.5 M45.5 248.2H49.5 M49.5 490.4V494.4 M82.2 490.4V494.4 M115.0 490.4V494.4 M147.8 490.4V494.4 M180.5 490.4V494.4 M213.2 490.4V494.4 M246.0 490.4V494.4 M278.8 490.4V494.4 M311.5 490.4V494.4 M344.2 490.4V494.4" stroke="#000" stroke-width="1.2"/>
<text x="41.6" y="472.18" font-size="11" fill="#000" text-anchor="end" textLength="15.5" lengthAdjust="spacingAndGlyphs" stroke="#000" stroke-width="0.25" font-weight="bold">600</text>
<text x="41.6" y="428.14" font-size="11" fill="#000" text-anchor="end" textLength="15.5" lengthAdjust="spacingAndGlyphs" stroke="#000" stroke-width="0.25" font-weight="bold">800</text>
<text x="41.6" y="384.09999999999997" font-size="11" fill="#000" text-anchor="end" textLength="20.7" lengthAdjust="spacingAndGlyphs" stroke="#000" stroke-width="0.25" font-weight="bold">1000</text>
<text x="41.6" y="340.06" font-size="11" fill="#000" text-anchor="end" textLength="20.7" lengthAdjust="spacingAndGlyphs" stroke="#000" stroke-width="0.25" font-weight="bold">1200</text>
<text x="41.6" y="296.02" font-size="11" fill="#000" text-anchor="end" textLength="20.7" lengthAdjust="spacingAndGlyphs" stroke="#000" stroke-width="0.25" font-weight="bold">1400</text>
<text x="41.6" y="251.98" font-size="11" fill="#000" text-anchor="end" textLength="20.7" lengthAdjust="spacingAndGlyphs" stroke="#000" stroke-width="0.25" font-weight="bold">1600</text>
<text x="49.5" y="507" font-size="11" fill="#000" text-anchor="middle" textLength="5.3" lengthAdjust="spacingAndGlyphs" stroke="#000" stroke-width="0.25" font-weight="bold">0</text>
<text x="115.0" y="507" font-size="11" fill="#000" text-anchor="middle" textLength="21.5" lengthAdjust="spacingAndGlyphs" stroke="#000" stroke-width="0.25" font-weight="bold">1000</text>
<text x="180.5" y="507" font-size="11" fill="#000" text-anchor="middle" textLength="21.5" lengthAdjust="spacingAndGlyphs" stroke="#000" stroke-width="0.25" font-weight="bold">2000</text>
<text x="246.0" y="507" font-size="11" fill="#000" text-anchor="middle" textLength="21.5" lengthAdjust="spacingAndGlyphs" stroke="#000" stroke-width="0.25" font-weight="bold">3000</text>
<text x="311.5" y="507" font-size="11" fill="#000" text-anchor="middle" textLength="21.5" lengthAdjust="spacingAndGlyphs" stroke="#000" stroke-width="0.25" font-weight="bold">4000</text>
<text x="173.7" y="526" font-size="13.4" fill="#000" text-anchor="start" textLength="47.3" lengthAdjust="spacingAndGlyphs" stroke="#000" stroke-width="0.3" font-weight="bold">Time/ms</text>
<text transform="translate(14.3,414) rotate(-90)" font-size="13" font-weight="bold" stroke="#000" stroke-width="0.3" textLength="89" lengthAdjust="spacingAndGlyphs">Temperature/°C</text>
<text x="51.8" y="263.3" font-size="13" fill="#000" text-anchor="start" stroke="#000" stroke-width="0.3" font-weight="bold">(b)</text>
<text x="199.4" y="269.3" font-size="13.4" fill="#f01c24" text-anchor="start" textLength="74.2" lengthAdjust="spacingAndGlyphs" stroke="#f01c24" stroke-width="0.35" font-weight="bold">Ignited zone</text>
<text x="194.8" y="452.3" font-size="14.3" fill="#2a6cc8" text-anchor="start" textLength="99.8" lengthAdjust="spacingAndGlyphs" stroke="#2a6cc8" stroke-width="0.3" font-weight="bold">Not ignited zone</text>
<rect x="377.6" y="249.3" width="147.39999999999998" height="115.69999999999999" fill="#fff"/>
<clipPath id="cc"><rect x="377.6" y="249.3" width="147.39999999999998" height="115.69999999999999"/></clipPath>
<g clip-path="url(#cc)"><path d="M377.6 285.0 L525.0 260.3" fill="none" stroke="#444" stroke-width="1.4" stroke-dasharray="3.4,2"/><path d="M377.6 301.5 L525.0 251.9" fill="none" stroke="#12b07a" stroke-width="1.4" stroke-dasharray="3.4,2"/><path d="M377.6 309.5 L525.0 272.5" fill="none" stroke="#a89a10" stroke-width="1.4" stroke-dasharray="3.4,2"/><path d="M377.6 311.0 L525.0 277.5" fill="none" stroke="#e39a10" stroke-width="1.4" stroke-dasharray="3.4,2"/><path d="M377.6 334.7 L525.0 291.6" fill="none" stroke="#f03a3a" stroke-width="1.4" stroke-dasharray="3.4,2"/><path d="M377.6 334.7 L525.0 325.2" fill="none" stroke="#c07ff0" stroke-width="1.4" stroke-dasharray="3.4,2"/><path d="M377.6 345.0 L525.0 328.2" fill="none" stroke="#1f6fe6" stroke-width="1.4" stroke-dasharray="3.4,2"/></g>
<polygon points="441.2,272.0 437.6,269.9 437.6,265.8 441.2,263.8 444.8,265.8 444.8,269.9" fill="#8d8a10"/><rect x="440.6" y="265.9" width="1.2" height="4" fill="#f0f0c0"/>
<rect x="479.4" y="261.1" width="6" height="6" fill="#777"/><circle cx="482.4" cy="264.1" r="1.2" fill="none" stroke="#ccc" stroke-width="0.5"/>
<path d="M411.0 292.7 L418.0 288.7 L418.0 296.7Z" fill="#e0920e" fill-opacity="0.85" stroke="#e0920e" stroke-width="1"/>
<circle cx="424.0" cy="331.7" r="3.3" fill="#f33838"/>
<path d="M449.6 326.9 L453.6 330.9 L449.6 334.9 L445.6 330.9Z" fill="none" stroke="#c46cf0" stroke-width="1.2"/>
<rect x="377.6" y="249.3" width="147.39999999999998" height="115.69999999999999" fill="none" stroke="#000" stroke-width="1.5"/>
<path d="M375.1 365.0H377.6 M375.1 348.5H377.6 M375.1 332.0H377.6 M375.1 315.5H377.6 M375.1 298.9H377.6 M375.1 282.4H377.6 M375.1 265.9H377.6 M375.1 249.4H377.6 M377.6 365.0V367.0 M398.7 365.0V367.0 M419.7 365.0V367.0 M440.8 365.0V367.0 M461.8 365.0V367.0 M482.9 365.0V367.0 M503.9 365.0V367.0 M525.0 365.0V367.0" stroke="#000" stroke-width="1"/>
<text x="374.2" y="367.5" font-size="7.6" fill="#000" text-anchor="end" textLength="11.5" lengthAdjust="spacingAndGlyphs" stroke="#000" stroke-width="0.2" font-weight="bold">800</text>
<text x="374.2" y="334.47" font-size="7.6" fill="#000" text-anchor="end" textLength="11.5" lengthAdjust="spacingAndGlyphs" stroke="#000" stroke-width="0.2" font-weight="bold">900</text>
<text x="374.2" y="301.44" font-size="7.6" fill="#000" text-anchor="end" textLength="15.3" lengthAdjust="spacingAndGlyphs" stroke="#000" stroke-width="0.2" font-weight="bold">1000</text>
<text x="374.2" y="268.41" font-size="7.6" fill="#000" text-anchor="end" textLength="15.3" lengthAdjust="spacingAndGlyphs" stroke="#000" stroke-width="0.2" font-weight="bold">1100</text>
<text x="398.6571428571429" y="375.1" font-size="7.6" fill="#000" text-anchor="middle" textLength="14.5" lengthAdjust="spacingAndGlyphs" stroke="#000" stroke-width="0.2" font-weight="bold">1600</text>
<text x="440.7714285714286" y="375.1" font-size="7.6" fill="#000" text-anchor="middle" textLength="14.5" lengthAdjust="spacingAndGlyphs" stroke="#000" stroke-width="0.2" font-weight="bold">1800</text>
<text x="482.8857142857143" y="375.1" font-size="7.6" fill="#000" text-anchor="middle" textLength="14.5" lengthAdjust="spacingAndGlyphs" stroke="#000" stroke-width="0.2" font-weight="bold">2000</text>
<text x="525.0" y="375.1" font-size="7.6" fill="#000" text-anchor="middle" textLength="14.5" lengthAdjust="spacingAndGlyphs" stroke="#000" stroke-width="0.2" font-weight="bold">2200</text>
<text x="434.5" y="387.3" font-size="9.5" fill="#000" text-anchor="start" textLength="33.3" lengthAdjust="spacingAndGlyphs" stroke="#000" stroke-width="0.25" font-weight="bold">Time/ms</text>
<text transform="translate(356,340.3) rotate(-90)" font-size="10.3" font-weight="bold" stroke="#000" stroke-width="0.25" textLength="66" lengthAdjust="spacingAndGlyphs">Temperature/°C</text>
<text x="384.5" y="268.5" font-size="13" fill="#000" text-anchor="start" stroke="#000" stroke-width="0.3" font-weight="bold">(c)</text>
<path d="M343.5 269 L372 252.5" stroke="#f6d060" stroke-width="0.9" stroke-dasharray="1,1"/>
<path d="M369.5 249 L376 250 L372.5 255Z" fill="#f0a818"/>
<circle cx="372.9" cy="365.2" r="2.3" fill="#f2b21c"/>
<rect x="378.6" y="389.2" width="147.5" height="100.7" fill="#fff" stroke="#444" stroke-width="0.9"/>
<rect x="385.9" y="394.8" width="5" height="5" fill="#555"/>
<circle cx="466.0" cy="397.3" r="3.2" fill="#f33838"/>
<g transform="translate(399.2 400.50) scale(0.84 1)"><text x="0" y="0" font-size="9.2" fill="#111" text-anchor="start" stroke="#111" stroke-width="0.2" font-weight="bold">Blank sample</text></g>
<g transform="translate(476.3 400.50) scale(0.84 1)"><text x="0" y="0" font-size="9.2" fill="#111" text-anchor="start" stroke="#111" stroke-width="0.2" font-weight="bold">Al-Mg</text></g>
<path d="M388.4 405.3 L391.6 410.9 L385.1 410.9Z" fill="none" stroke="#1f6fe6" stroke-width="1.4"/>
<path d="M466.0 412.0 L469.2 406.4 L462.8 406.4Z" fill="none" stroke="#13a862" stroke-width="1.4"/>
<g transform="translate(399.2 411.85) scale(0.84 1)"><text x="0" y="0" font-size="9.2" fill="#111" text-anchor="start" stroke="#111" stroke-width="0.2" font-weight="bold">Al-Zn</text></g>
<g transform="translate(476.3 411.85) scale(0.84 1)"><text x="0" y="0" font-size="9.2" fill="#111" text-anchor="start" stroke="#111" stroke-width="0.2" font-weight="bold">Al-Si-Mg</text></g>
<path d="M388.4 416.5 L391.9 420.0 L388.4 423.5 L384.9 420.0Z" fill="none" stroke="#c46cf0" stroke-width="1.2"/>
<path d="M462.6 420.0 L468.3 416.8 L468.3 423.2Z" fill="#e0920e" fill-opacity="0.85" stroke="#e0920e" stroke-width="1"/>
<g transform="translate(399.2 423.20) scale(0.84 1)"><text x="0" y="0" font-size="9.2" fill="#111" text-anchor="start" stroke="#111" stroke-width="0.2" font-weight="bold">Al</text></g>
<g transform="translate(476.3 423.20) scale(0.84 1)"><text x="0" y="0" font-size="9.2" fill="#111" text-anchor="start" stroke="#111" stroke-width="0.2" font-weight="bold">Al-Zn+AP</text></g>
<path d="M392.3 431.4 L385.8 427.6 L385.8 435.1Z" fill="#1cc3cc"/>
<polygon points="466.0,434.8 463.1,433.1 463.1,429.7 466.0,428.0 468.9,429.7 468.9,433.1" fill="#8d8a10"/><rect x="465.4" y="429.4" width="1.2" height="4" fill="#f0f0c0"/>
<g transform="translate(399.2 434.55) scale(0.84 1)"><text x="0" y="0" font-size="9.2" fill="#111" text-anchor="start" stroke="#111" stroke-width="0.2" font-weight="bold">Al-Si-Mg+AP</text></g>
<g transform="translate(476.3 434.55) scale(0.84 1)"><text x="0" y="0" font-size="9.2" fill="#111" text-anchor="start" stroke="#111" stroke-width="0.2" font-weight="bold">Al+AP</text></g>
<path d="M379.4 442.7H395.4" stroke="#3a3a3a" stroke-width="1.3" stroke-dasharray="3,2.4"/>
<path d="M457 442.7H473" stroke="#f03a3a" stroke-width="1.3" stroke-dasharray="3,2.4"/>
<g transform="translate(399.2 445.90) scale(0.84 1)"><text x="0" y="0" font-size="9.2" fill="#111" text-anchor="start" stroke="#111" stroke-width="0.2" font-weight="bold">Blank sample -fit</text></g>
<g transform="translate(476.3 445.90) scale(0.84 1)"><text x="0" y="0" font-size="9.2" fill="#111" text-anchor="start" stroke="#111" stroke-width="0.2" font-weight="bold">Al-Mg -fit</text></g>
<path d="M379.4 454.05H395.4" stroke="#1f6fe6" stroke-width="1.3" stroke-dasharray="3,2.4"/>
<path d="M457 454.05H473" stroke="#12b07a" stroke-width="1.3" stroke-dasharray="3,2.4"/>
<g transform="translate(399.2 457.25) scale(0.84 1)"><text x="0" y="0" font-size="9.2" fill="#111" text-anchor="start" stroke="#111" stroke-width="0.2" font-weight="bold">Al-Zn -fit</text></g>
<g transform="translate(476.3 457.25) scale(0.84 1)"><text x="0" y="0" font-size="9.2" fill="#111" text-anchor="start" stroke="#111" stroke-width="0.2" font-weight="bold">Al-Si-Mg -fit</text></g>
<path d="M379.4 465.40000000000003H395.4" stroke="#c07ff0" stroke-width="1.3" stroke-dasharray="3,2.4"/>
<path d="M457 465.40000000000003H473" stroke="#e39a10" stroke-width="1.3" stroke-dasharray="3,2.4"/>
<g transform="translate(399.2 468.60) scale(0.84 1)"><text x="0" y="0" font-size="9.2" fill="#111" text-anchor="start" stroke="#111" stroke-width="0.2" font-weight="bold">Al -fit</text></g>
<g transform="translate(476.3 468.60) scale(0.84 1)"><text x="0" y="0" font-size="9.2" fill="#111" text-anchor="start" stroke="#111" stroke-width="0.2" font-weight="bold">Al-Zn+AP -fit</text></g>
<path d="M379.4 476.75H395.4" stroke="#1fc6d0" stroke-width="1.3" stroke-dasharray="3,2.4"/>
<path d="M457 476.75H473" stroke="#8c8c12" stroke-width="1.3" stroke-dasharray="3,2.4"/>
<g transform="translate(399.2 479.95) scale(0.84 1)"><text x="0" y="0" font-size="9.2" fill="#111" text-anchor="start" stroke="#111" stroke-width="0.2" font-weight="bold">Al-Si-Mg+AP -fit</text></g>
<g transform="translate(476.3 479.95) scale(0.84 1)"><text x="0" y="0" font-size="9.2" fill="#111" text-anchor="start" stroke="#111" stroke-width="0.2" font-weight="bold">Al+AP -fit</text></g>
</svg>
</body></html>
